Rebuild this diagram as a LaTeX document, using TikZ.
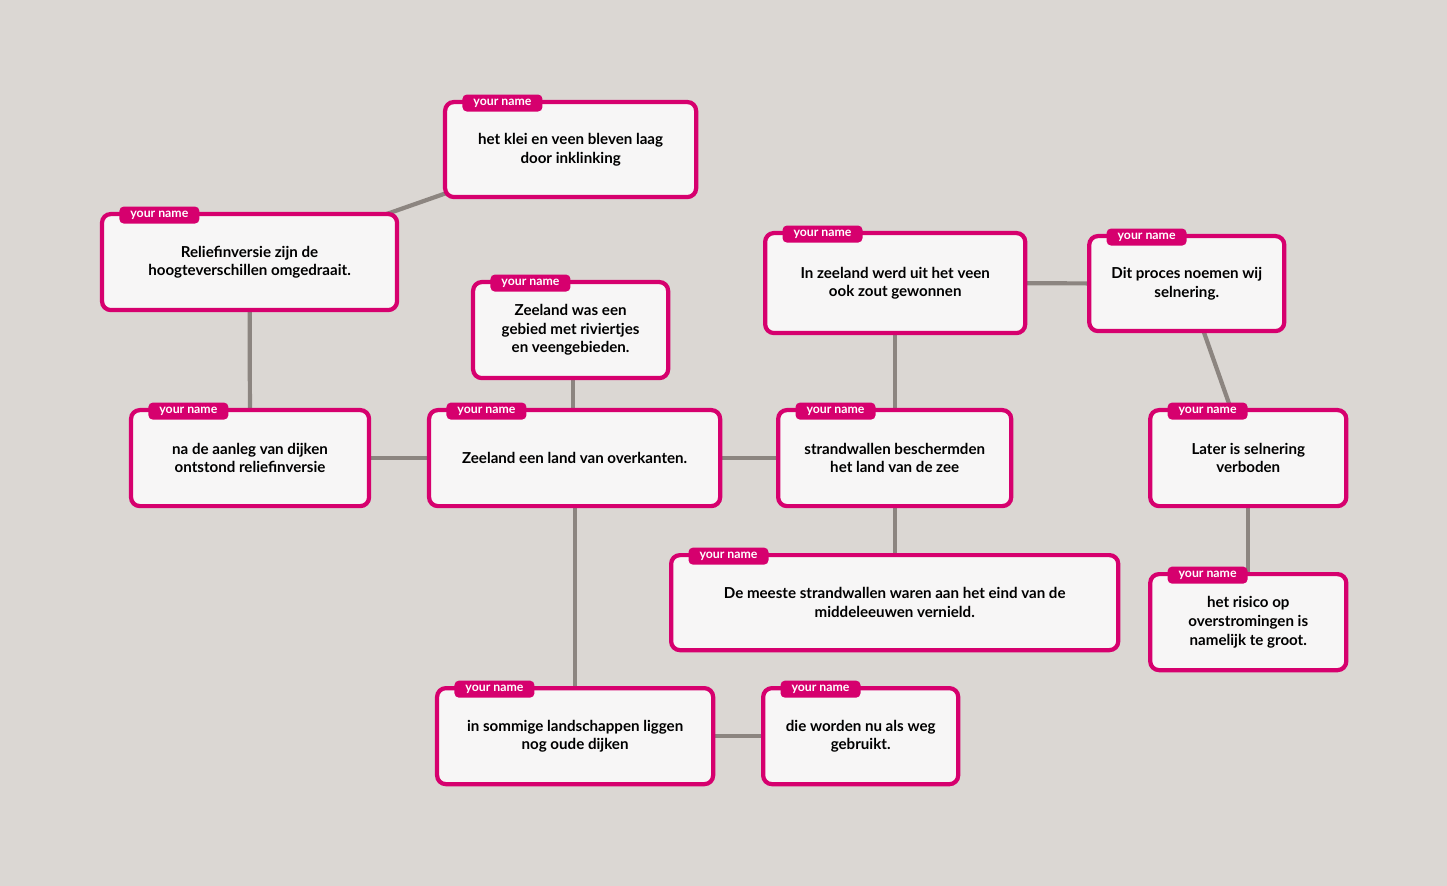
\documentclass[tikz,border=0pt]{standalone}
\usepackage{fontspec}
\setmainfont{Lato}
\definecolor{bg}{HTML}{DBD7D3}
\definecolor{mag}{HTML}{D6006E}
\definecolor{boxf}{HTML}{F7F6F6}
\definecolor{lin}{HTML}{8C8580}
\pgfdeclarelayer{back}
\pgfsetlayers{back,main}
\tikzset{
  card/.style={draw=mag,line width=2.4pt,fill=boxf,rounded corners=5pt,align=center,
    font=\bfseries\fontsize{8.6}{10.6}\selectfont,inner sep=0pt},
  tag/.style={fill=mag,rounded corners=2.5pt,text=white,font=\bfseries\fontsize{7}{8}\selectfont,
    minimum width=1.6cm,minimum height=0.34cm,inner sep=0pt},
  conn/.style={draw=lin,line width=2.4pt}
}
\newcommand{\card}[6]{% name, l, t, r, b, text
  \node[card,minimum width={(#4-#2)*0.02cm},minimum height={(#5-#3)*0.02cm}] (#1) at ({(#2+#4)/2*0.02},{-(#3+#5)/2*0.02}) {#6};
  \node[tag,anchor=west] (#1t) at ({(#2+17)*0.02},{-(#3)*0.02-0.02}) {your name};
}
\begin{document}
\begin{tikzpicture}
\begin{pgfonlayer}{back}
\fill[bg] (0,0) rectangle (28.94,-17.72);
\end{pgfonlayer}
\useasboundingbox (0,0) rectangle (28.94,-17.72);
\card{a}{445}{102}{696}{197}{het klei en veen bleven laag\\door inklinking}
\card{b}{102}{214}{397}{310}{Reliefinversie zijn de\\hoogteverschillen omgedraait.}
\card{c}{473}{282}{668}{378}{Zeeland was een\\gebied met riviertjes\\en veengebieden.}
\card{d}{765}{233}{1025}{333}{In zeeland werd uit het veen\\ook zout gewonnen}
\card{e}{1089}{236}{1284}{331}{Dit proces noemen wij\\selnering.}
\card{f}{131}{410}{369}{506}{na de aanleg van dijken\\ontstond reliefinversie}
\card{g}{429}{410}{720}{506}{Zeeland een land van overkanten.}
\card{h}{778}{410}{1011}{506}{strandwallen beschermden\\het land van de zee}
\card{i}{1150}{410}{1346}{506}{Later is selnering\\verboden}
\card{j}{671}{555}{1118}{650}{De meeste strandwallen waren aan het eind van de\\middeleeuwen vernield.}
\card{k}{1150}{574}{1346}{670}{het risico op\\overstromingen is\\namelijk te groot.}
\card{l}{437}{688}{713}{784}{in sommige landschappen liggen\\nog oude dijken}
\card{m}{763}{688}{958}{784}{die worden nu als weg\\gebruikt.}
\begin{pgfonlayer}{back}
\draw[conn] (b.center) -- (a.center);
\draw[conn] (b.center) -- (f.center);
\draw[conn] (f.center) -- (g.center);
\draw[conn] ([xshift=0.05cm]c.center) -- ([xshift=0.05cm]c.center|-g.center);
\draw[conn] (g.center) -- (h.center);
\draw[conn] (g.center) -- (g.center|-l.center);
\draw[conn] (l.center) -- (m.center);
\draw[conn] (d.center) -- (d.center|-h.center);
\draw[conn] (d.center) -- (e.center);
\draw[conn] (e.center) -- (i.center);
\draw[conn] (h.center) -- (h.center|-j.center);
\draw[conn] (i.center) -- (k.center);
\end{pgfonlayer}
\end{tikzpicture}
\end{document}
